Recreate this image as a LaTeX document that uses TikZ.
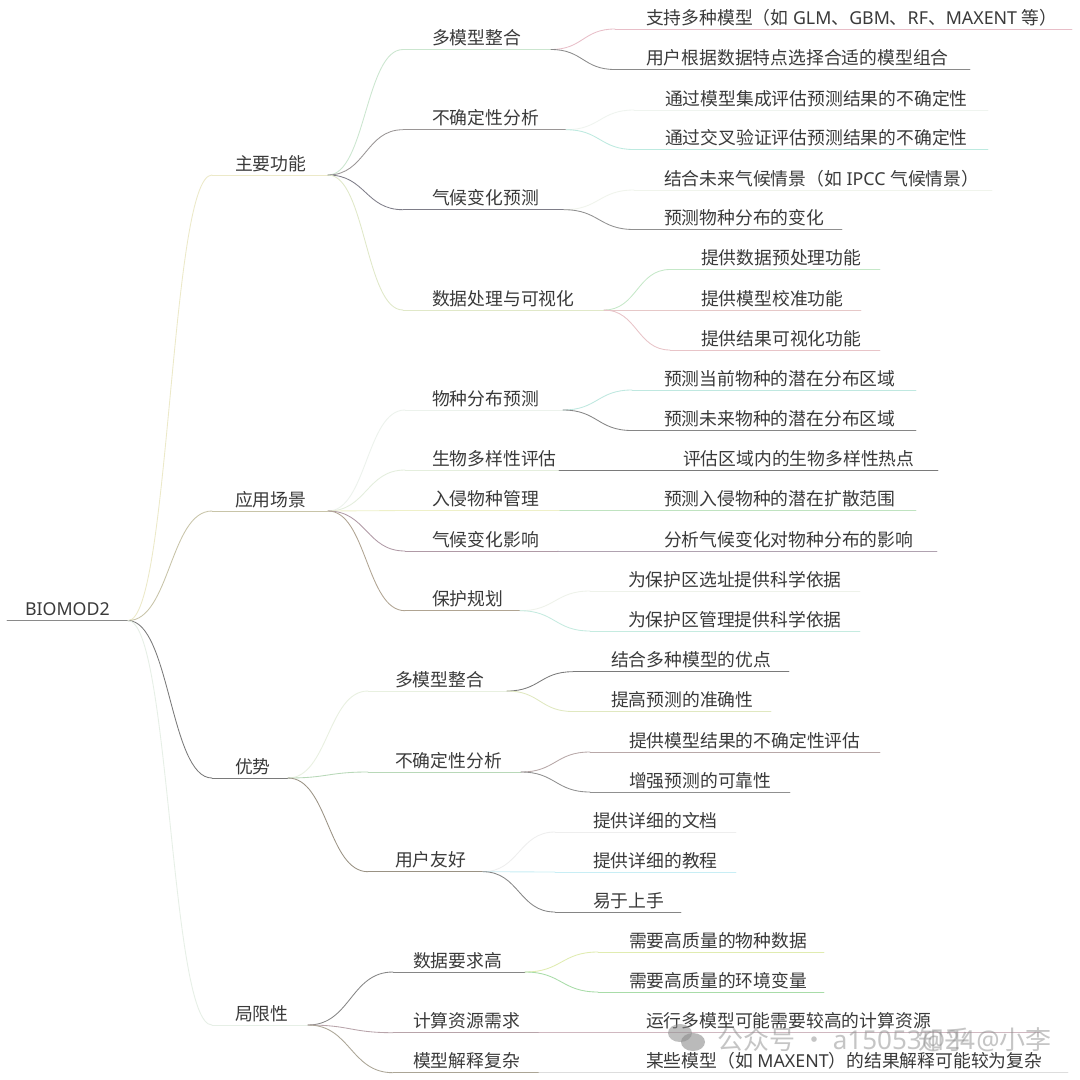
\documentclass[tikz,border=0pt]{standalone}
\usepackage{fontspec}
\setmainfont{Noto Sans CJK SC}
\newfontfamily\latfont{Noto Sans}
\newcommand{\lat}[1]{{\latfont #1}}
\usetikzlibrary{calc}
\definecolor{ink}{HTML}{3A3A3A}
\definecolor{wm}{HTML}{8C8C8C}
\tikzset{
  topic/.style={anchor=south west,inner sep=0pt,outer sep=0pt,text height=18pt,text depth=4.8pt,text=ink,font=\fontsize{17.8}{20}\selectfont},
  wire/.style={line width=0.85pt,line cap=round},
  wmtext/.style={text=wm,opacity=0.5,inner sep=0pt,font=\fontsize{26}{29}\selectfont},
}
% name, line start x, line end x, line y, text x, text, colour
\newcommand{\tnode}[7]{%
  \pgfmathsetlengthmacro{\tw}{#3-#2}\pgfmathsetlengthmacro{\tp}{#5-#2}%
  \definecolor{cur#1}{HTML}{#7}%
  \node[topic] (#1) at (#2,#4) {\makebox[\tw][l]{\hspace*{\tp}#6}};
  \draw[wire,draw=cur#1] (#1.south west) -- (#1.south east);
}
% parent, child: colour is the child's
\newcommand{\conn}[2]{%
  \draw[wire,draw=cur#2] let \p1=(#1.south east),\p2=(#2.south west),\n1={(\x1+\x2)/2} in
    (\p1) .. controls (\n1,\y1) and (\n1,\y2) .. (\p2);
}
\begin{document}
\begin{tikzpicture}[x=1pt,y=-1pt]
\useasboundingbox[fill=white] (0,0) rectangle (1080,1080);
\tnode{root}{7}{128}{620.6}{25}{\lat{BIOMOD2}}{8A8A8A}
% first level
\tnode{a}{212}{328}{175}{235}{主要功能}{ECE9C8}
\tnode{b}{212}{328}{511}{235}{应用场景}{C8C4A8}
\tnode{c}{212}{288}{778}{235}{优势}{7A7A7A}
\tnode{d}{212}{308}{1025}{235}{局限性}{E6EFE6}
\conn{root}{a}\conn{root}{b}\conn{root}{c}\conn{root}{d}
% 主要功能
\tnode{a1}{403}{551}{49.5}{432}{多模型整合}{CBE6CF}
\tnode{a2}{403}{566}{129.7}{432}{不确定性分析}{9A9696}
\tnode{a3}{403}{564}{209.7}{432}{气候变化预测}{7E7D88}
\tnode{a4}{403}{604}{310}{432}{数据处理与可视化}{E0E8C8}
\conn{a}{a1}\conn{a}{a2}\conn{a}{a3}\conn{a}{a4}
\tnode{a11}{615}{1072}{29}{646}{支持多种模型（如\lat{ GLM}、\lat{GBM}、\lat{RF}、\lat{MAXENT }等）}{E8BEC8}
\tnode{a12}{615}{970}{69.5}{646}{用户根据数据特点选择合适的模型组合}{8A8A8A}
\conn{a1}{a11}\conn{a1}{a12}
\tnode{a21}{634}{988}{110}{665}{通过模型集成评估预测结果的不确定性}{EFF4EF}
\tnode{a22}{634}{988}{149.5}{665}{通过交叉验证评估预测结果的不确定性}{BDEAE0}
\conn{a2}{a21}\conn{a2}{a22}
\tnode{a31}{634}{992}{190}{664}{结合未来气候情景（如\lat{ IPCC }气候情景）}{F0F4EC}
\tnode{a32}{634}{842}{229.5}{664}{预测物种分布的变化}{909090}
\conn{a3}{a31}\conn{a3}{a32}
\tnode{a41}{670}{880}{269.5}{701}{提供数据预处理功能}{C5E8C8}
\tnode{a42}{670}{861}{310}{701}{提供模型校准功能}{E6C8C8}
\tnode{a43}{670}{880}{350}{701}{提供结果可视化功能}{E8C4C8}
\conn{a4}{a41}\conn{a4}{a42}\conn{a4}{a43}
% 应用场景
\tnode{b1}{405}{563}{410}{432}{物种分布预测}{ECF2EC}
\tnode{b2}{405}{559}{470}{432}{生物多样性评估}{E4EEDD}
\tnode{b3}{405}{560}{510.5}{432}{入侵物种管理}{EEF0C8}
\tnode{b4}{405}{558}{551}{432}{气候变化影响}{B09AA6}
\tnode{b5}{405}{520}{610.7}{432}{保护规划}{B0A492}
\conn{b}{b1}\conn{b}{b2}\conn{b}{b3}\conn{b}{b4}\conn{b}{b5}
\tnode{b11}{632}{916}{390}{664}{预测当前物种的潜在分布区域}{BFE8E0}
\tnode{b12}{632}{916}{430.5}{664}{预测未来物种的潜在分布区域}{868686}
\conn{b1}{b11}\conn{b1}{b12}
\tnode{b21}{576}{938}{470}{683}{评估区域内的生物多样性热点}{7A7A7A}
\conn{b2}{b21}
\tnode{b31}{560}{916}{510.5}{664}{预测入侵物种的潜在扩散范围}{BFE3C0}
\conn{b3}{b31}
\tnode{b41}{558}{937}{551}{664}{分析气候变化对物种分布的影响}{B0A2B0}
\conn{b4}{b41}
\tnode{b51}{590}{860}{591}{628}{为保护区选址提供科学依据}{EEF2EA}
\tnode{b52}{590}{860}{631}{628}{为保护区管理提供科学依据}{C5EBE0}
\conn{b5}{b51}\conn{b5}{b52}
% 优势
\tnode{c1}{368}{507}{691}{395}{多模型整合}{E8F0E0}
\tnode{c2}{368}{521}{772}{395}{不确定性分析}{B8D8B8}
\tnode{c3}{368}{483}{871.7}{395}{用户友好}{9A9284}
\conn{c}{c1}\conn{c}{c2}\conn{c}{c3}
\tnode{c11}{573}{789}{671.7}{611}{结合多种模型的优点}{7A7A7A}
\tnode{c12}{573}{771}{711.5}{611}{提高预测的准确性}{E0E8C0}
\conn{c1}{c11}\conn{c1}{c12}
\tnode{c21}{590}{880}{752}{629}{提供模型结果的不确定性评估}{B8A8A8}
\tnode{c22}{590}{790}{792}{629}{增强预测的可靠性}{909090}
\conn{c2}{c21}\conn{c2}{c22}
\tnode{c31}{555}{736}{832}{593}{提供详细的文档}{EEEEEE}
\tnode{c32}{555}{736}{872}{593}{提供详细的教程}{C8EEF5}
\tnode{c33}{555}{681}{912}{593}{易于上手}{858585}
\conn{c3}{c31}\conn{c3}{c32}\conn{c3}{c33}
% 局限性
\tnode{d1}{393}{525}{972}{413}{数据要求高}{868686}
\tnode{d2}{393}{539}{1032.7}{413}{计算资源需求}{B8A4AA}
\tnode{d3}{393}{539}{1072.7}{413}{模型解释复杂}{ABA596}
\conn{d}{d1}\conn{d}{d2}\conn{d}{d3}
\tnode{d11}{598}{824}{952}{629}{需要高质量的物种数据}{E0ECB0}
\tnode{d12}{598}{824}{992}{629}{需要高质量的环境变量}{A8DCA8}
\conn{d1}{d11}\conn{d1}{d12}
\tnode{d21}{539}{1040}{1032.7}{646}{运行多模型可能需要较高的计算资源}{D0B8C0}
\conn{d2}{d21}
\tnode{d31}{539}{1068}{1072.7}{646}{某些模型（如\lat{ MAXENT}）的结果解释可能较为复杂}{DDDDDD}
\conn{d3}{d31}
% watermark
\fill[wm,opacity=0.55] (680,1033) ellipse (12 and 9);
\fill[wm,opacity=0.6] (693,1042) ellipse (12 and 9);
\node[wmtext,anchor=west] (wm1) at (717,1040) {公众号 · \lat{a15053@24}};
\node[wmtext,anchor=east] (wm2) at (1052,1040) {知乎 \lat{@}小李};
\end{tikzpicture}
\end{document}
